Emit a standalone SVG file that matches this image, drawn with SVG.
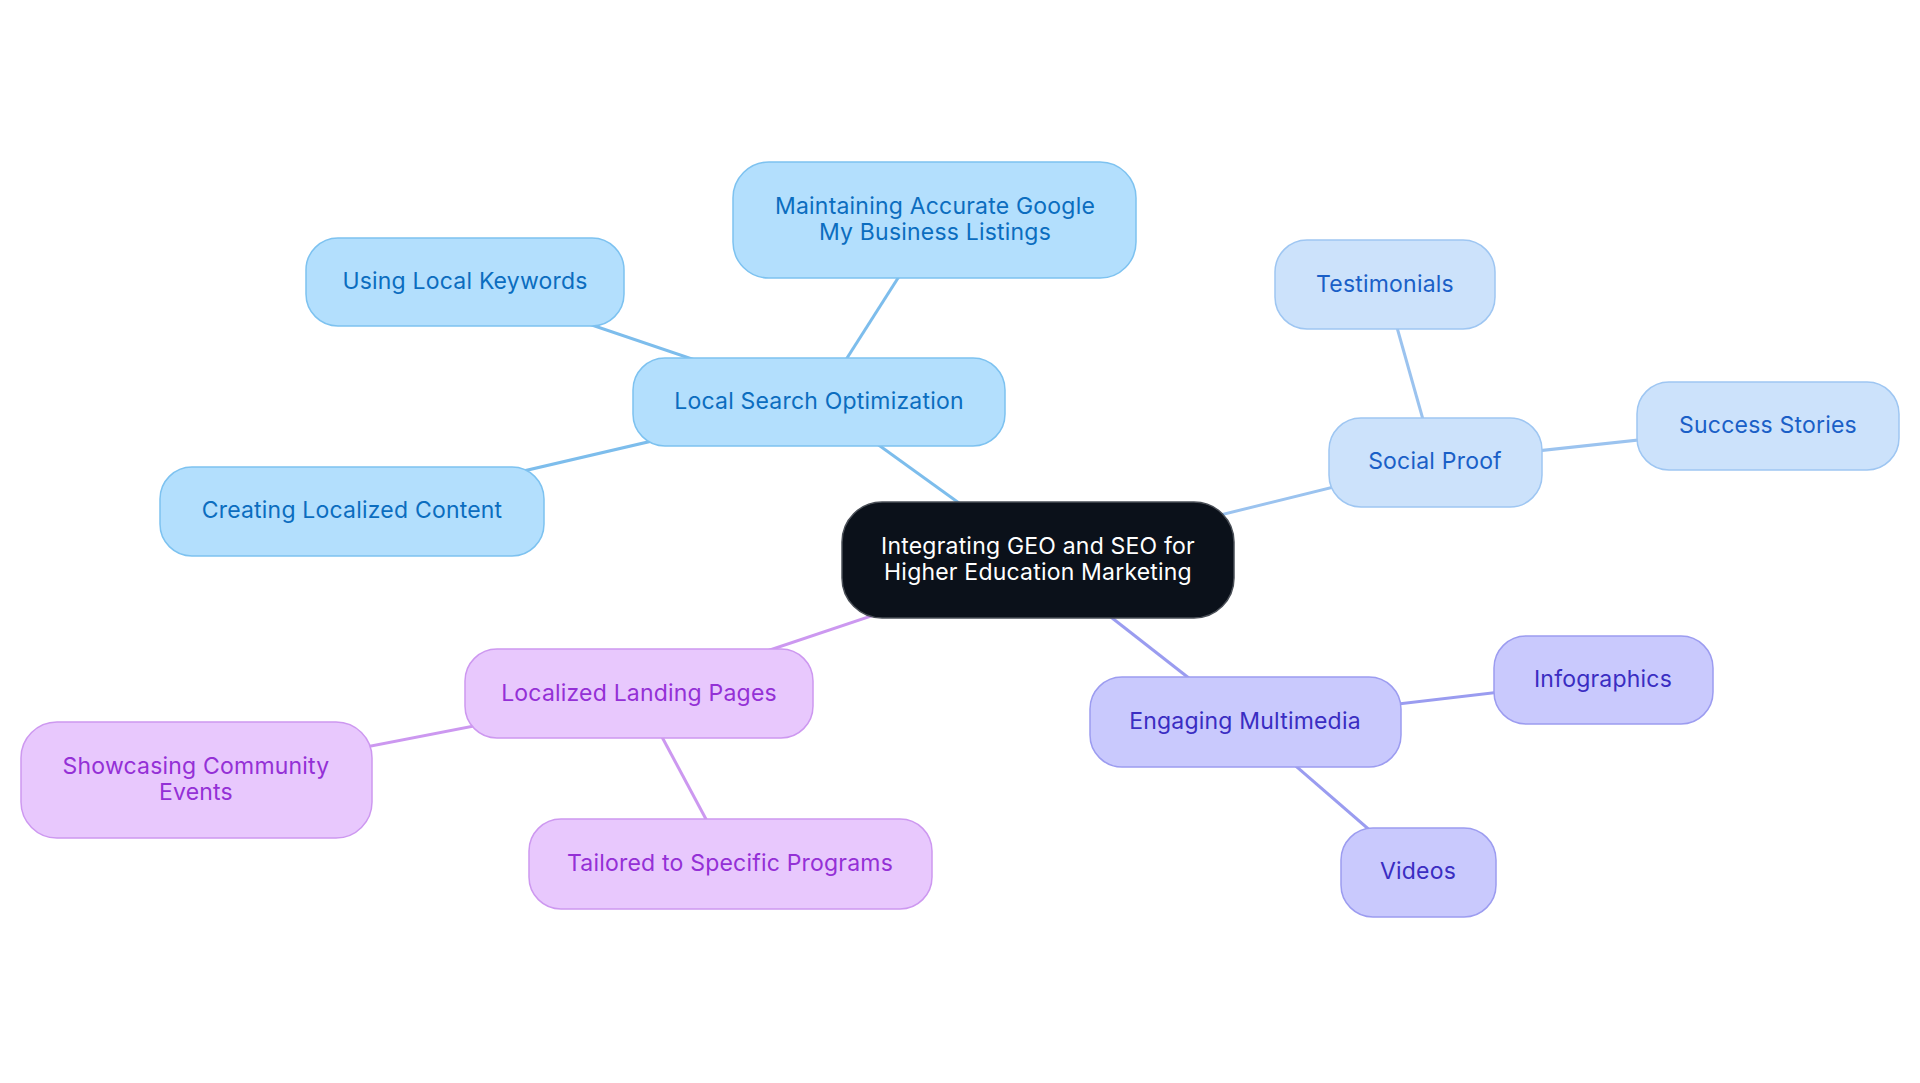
<svg xmlns="http://www.w3.org/2000/svg" width="1920" height="1083" viewBox="0 0 1920 1083">
<style>
text{font-family:Inter,"Noto Sans","Liberation Sans",sans-serif;font-size:23px;letter-spacing:0.2px;text-anchor:middle;dominant-baseline:central}
.edge{stroke-width:3;fill:none}
.blue rect{fill:#B3DFFD;stroke:#7DC2F0;stroke-width:1.5}
.blue text{fill:#0B6DBF}
.soc rect{fill:#CCE2FB;stroke:#9EC6F2;stroke-width:1.5}
.soc text{fill:#1A5FC7}
.mm rect{fill:#C9C9FD;stroke:#9C9CF0;stroke-width:1.5}
.mm text{fill:#3A2DC2}
.pur rect{fill:#E8C8FD;stroke:#CD98F0;stroke-width:1.5}
.pur text{fill:#9430D6}
</style>
<rect width="1920" height="1083" fill="#FFFFFF"/>
<g id="connectors">
<line class="edge" stroke="#7DBDEC" x1="1038" y1="560" x2="819" y2="402"/>
<line class="edge" stroke="#7DBDEC" x1="819" y1="402" x2="935" y2="220"/>
<line class="edge" stroke="#7DBDEC" x1="819" y1="402" x2="465" y2="282"/>
<line class="edge" stroke="#7DBDEC" x1="819" y1="402" x2="352" y2="511"/>
<line class="edge" stroke="#9BC3EF" x1="1038" y1="560" x2="1435" y2="462"/>
<line class="edge" stroke="#9BC3EF" x1="1435" y1="462" x2="1385" y2="285"/>
<line class="edge" stroke="#9BC3EF" x1="1435" y1="462" x2="1768" y2="426"/>
<line class="edge" stroke="#9A9CF0" x1="1038" y1="560" x2="1245" y2="722"/>
<line class="edge" stroke="#9A9CF0" x1="1245" y1="722" x2="1603" y2="680"/>
<line class="edge" stroke="#9A9CF0" x1="1245" y1="722" x2="1418" y2="872"/>
<line class="edge" stroke="#CC98F0" x1="1038" y1="560" x2="639" y2="694"/>
<line class="edge" stroke="#CC98F0" x1="639" y1="694" x2="196" y2="780"/>
<line class="edge" stroke="#CC98F0" x1="639" y1="694" x2="730" y2="864"/>
</g>
<g id="central">
<rect x="842" y="502" width="392" height="116" rx="40" fill="#0B111A" stroke="#4A4F57" stroke-width="1.5"/>
<text x="1038" y="546" fill="#FFFFFF">Integrating GEO and SEO for</text>
<text x="1038" y="572" fill="#FFFFFF">Higher Education Marketing</text>
</g>
<g id="local-search" class="blue">
<rect x="633" y="358" width="372" height="88" rx="32"/>
<text x="819" y="401">Local Search Optimization</text>
</g>
<g id="gmb" class="blue">
<rect x="733" y="162" width="403" height="116" rx="36"/>
<text x="935" y="206">Maintaining Accurate Google</text>
<text x="935" y="232">My Business Listings</text>
</g>
<g id="keywords" class="blue">
<rect x="306" y="238" width="318" height="88" rx="32"/>
<text x="465" y="281">Using Local Keywords</text>
</g>
<g id="content" class="blue">
<rect x="160" y="467" width="384" height="89" rx="32"/>
<text x="352" y="510">Creating Localized Content</text>
</g>
<g id="social" class="soc">
<rect x="1329" y="418" width="213" height="89" rx="32"/>
<text x="1435" y="461">Social Proof</text>
</g>
<g id="testimonials" class="soc">
<rect x="1275" y="240" width="220" height="89" rx="32"/>
<text x="1385" y="284">Testimonials</text>
</g>
<g id="success" class="soc">
<rect x="1637" y="382" width="262" height="88" rx="32"/>
<text x="1768" y="425">Success Stories</text>
</g>
<g id="multimedia" class="mm">
<rect x="1090" y="677" width="311" height="90" rx="32"/>
<text x="1245" y="721">Engaging Multimedia</text>
</g>
<g id="infographics" class="mm">
<rect x="1494" y="636" width="219" height="88" rx="32"/>
<text x="1603" y="679">Infographics</text>
</g>
<g id="videos" class="mm">
<rect x="1341" y="828" width="155" height="89" rx="32"/>
<text x="1418" y="871">Videos</text>
</g>
<g id="landing" class="pur">
<rect x="465" y="649" width="348" height="89" rx="32"/>
<text x="639" y="693">Localized Landing Pages</text>
</g>
<g id="community" class="pur">
<rect x="21" y="722" width="351" height="116" rx="36"/>
<text x="196" y="766">Showcasing Community</text>
<text x="196" y="792">Events</text>
</g>
<g id="tailored" class="pur">
<rect x="529" y="819" width="403" height="90" rx="32"/>
<text x="730" y="863">Tailored to Specific Programs</text>
</g>
</svg>
